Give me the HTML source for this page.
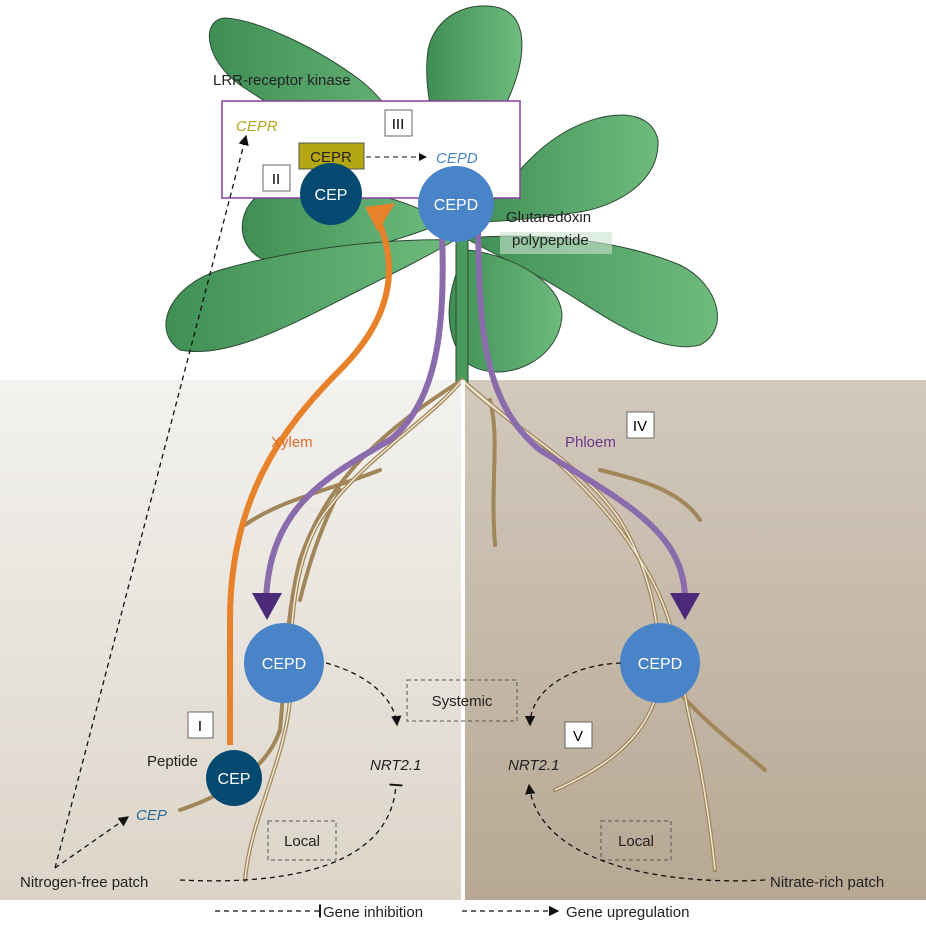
<!DOCTYPE html>
<html><head><meta charset="utf-8"><style>
body{margin:0;width:926px;height:927px;overflow:hidden;background:#fff;font-family:"Liberation Sans",sans-serif}
svg{display:block}
text{font-family:"Liberation Sans",sans-serif}
</style></head><body>
<svg width="926" height="927" viewBox="0 0 926 927" xmlns="http://www.w3.org/2000/svg">
<defs>
<linearGradient id="gl" x1="0" y1="0" x2="0" y2="1"><stop offset="0" stop-color="#f3f2ef"/><stop offset="1" stop-color="#dcd4c8"/></linearGradient>
<linearGradient id="gr" x1="0" y1="0" x2="0" y2="1"><stop offset="0" stop-color="#d2c9bd"/><stop offset="1" stop-color="#b7a893"/></linearGradient>
<linearGradient id="lf" x1="0" y1="0" x2="1" y2="0"><stop offset="0" stop-color="#3f8f55"/><stop offset="1" stop-color="#6fbb7e"/></linearGradient>
<marker id="ah" markerWidth="8" markerHeight="8" refX="7" refY="4" orient="auto"><path d="M0,0 L8,4 L0,8 Z" fill="#111"/></marker>
<marker id="tb" markerWidth="2" markerHeight="10" refX="1" refY="5" orient="auto"><path d="M1,0 V10" stroke="#111" stroke-width="1.5"/></marker>
</defs>
<rect x="0" y="380" width="461" height="520" fill="url(#gl)"/>
<rect x="465" y="380" width="461" height="520" fill="url(#gr)"/>
<!-- leaves -->
<g fill="url(#lf)" stroke="#2d4a34" stroke-width="1">
<path d="M450,220 C420,170 400,110 360,80 C320,50 260,20 225,18 C200,20 205,60 240,85 C300,125 380,170 450,220Z"/>
<path d="M462,205 C450,160 420,110 428,50 C435,15 470,0 500,8 C530,18 525,60 510,95 C495,130 470,170 462,205Z"/>
<path d="M470,222 C500,200 520,160 560,135 C600,110 650,105 658,140 C660,180 620,205 580,212 C540,218 500,222 470,222Z"/>
<path d="M445,222 C400,195 330,180 275,188 C240,195 230,240 260,258 C300,268 390,245 445,222Z"/>
<path d="M455,240 C380,238 290,250 220,270 C170,285 150,330 180,350 C230,360 300,320 360,290 C400,270 430,255 455,240Z"/>
<path d="M465,238 C540,232 620,240 680,265 C720,285 730,330 700,345 C660,355 610,320 570,295 C530,270 495,255 465,238Z"/>
<path d="M468,250 C445,285 440,340 470,365 C505,385 560,360 562,315 C560,280 510,255 468,250Z"/>
</g>
<rect x="456" y="200" width="12" height="182" fill="#4a9a5e" stroke="#2d4a34"/>
<!-- roots -->
<g fill="none" stroke="#a08659" stroke-width="4" stroke-linecap="round">
<path d="M462,380 C430,420 360,460 320,520 C290,570 290,640 290,700 C285,760 250,820 245,880"/>
<path d="M462,380 C400,420 330,470 300,560 C285,620 285,680 280,730 C270,760 240,790 180,810"/>
<path d="M380,470 C330,490 280,500 245,525"/>
<path d="M340,490 C320,530 310,560 300,600"/>
<path d="M462,380 C500,420 580,460 620,520 C650,570 660,620 660,680 C650,740 600,770 555,790"/>
<path d="M462,380 C520,430 600,490 640,560 C680,620 680,680 690,720 C700,760 710,820 715,870"/>
<path d="M490,400 C500,440 490,480 495,545"/>
<path d="M600,470 C640,480 680,490 700,520"/>
<path d="M660,670 C700,720 730,740 765,770"/>
</g>
<g fill="none" stroke="#f0e8d6" stroke-width="1.5">
<path d="M462,380 C430,420 360,460 320,520 C290,570 290,640 290,700 C285,760 250,820 245,880"/>
<path d="M462,380 C500,420 580,460 620,520 C650,570 660,620 660,680 C650,740 600,770 555,790"/>
<path d="M462,380 C520,430 600,490 640,560 C680,620 680,680 690,720 C700,760 710,820 715,870"/>
</g>
<rect x="461" y="380" width="4" height="520" fill="#fff"/>
<!-- box -->
<rect x="222" y="101" width="298" height="97" fill="#fff" stroke="#8a3fa0" stroke-width="1.5"/>
<text x="213" y="85" font-size="15" fill="#222">LRR-receptor kinase</text>
<text x="236" y="131" font-size="15" fill="#b5a520" font-style="italic">CEPR</text>
<rect x="385" y="110" width="27" height="26" fill="#fff" stroke="#666"/>
<text x="398" y="129" font-size="15" text-anchor="middle">III</text>
<rect x="299" y="143" width="65" height="26" fill="#b5a614" stroke="#555"/>
<text x="331" y="162" font-size="15" text-anchor="middle" fill="#222">CEPR</text>
<line x1="366" y1="157" x2="426" y2="157" stroke="#111" stroke-dasharray="5,4" marker-end="url(#ah)"/>
<text x="436" y="163" font-size="15" fill="#4a84c8" font-style="italic">CEPD</text>
<rect x="263" y="165" width="27" height="26" fill="#fff" stroke="#666"/>
<text x="276" y="184" font-size="15" text-anchor="middle">II</text>
<!-- arrows -->
<path d="M230,745 L230,620 C230,500 280,430 340,370 C390,320 400,270 378,220" fill="none" stroke="#e8822a" stroke-width="6"/>
<path d="M365,207 L395,203 L378,232 Z" fill="#e8822a"/>
<path d="M442,230 C445,320 440,400 390,440 C320,480 270,510 266,600" fill="none" stroke="#8a6bac" stroke-width="6"/>
<path d="M252,593 L282,593 L267,620 Z" fill="#4b2a7a"/>
<path d="M478,230 C480,320 480,400 540,450 C620,500 685,530 685,600" fill="none" stroke="#8a6bac" stroke-width="6"/>
<path d="M670,593 L700,593 L685,620 Z" fill="#4b2a7a"/>
<!-- circles -->
<circle cx="331" cy="194" r="31" fill="#044a70"/>
<text x="331" y="200" font-size="16" text-anchor="middle" fill="#fff">CEP</text>
<circle cx="456" cy="204" r="38" fill="#4a84c8"/>
<text x="456" y="210" font-size="16" text-anchor="middle" fill="#fff">CEPD</text>
<rect x="500" y="232" width="112" height="22" fill="#c9e2cf" opacity="0.6"/>
<text x="506" y="222" font-size="15" fill="#222">Glutaredoxin</text>
<text x="512" y="245" font-size="15" fill="#222">polypeptide</text>
<circle cx="284" cy="663" r="40" fill="#4a84c8"/>
<text x="284" y="669" font-size="16" text-anchor="middle" fill="#fff">CEPD</text>
<circle cx="660" cy="663" r="40" fill="#4a84c8"/>
<text x="660" y="669" font-size="16" text-anchor="middle" fill="#fff">CEPD</text>
<circle cx="234" cy="778" r="28" fill="#044a70"/>
<text x="234" y="784" font-size="16" text-anchor="middle" fill="#fff">CEP</text>
<text x="271" y="447" font-size="15" fill="#e06a25">Xylem</text>
<text x="565" y="447" font-size="15" fill="#6a3a8a">Phloem</text>
<rect x="627" y="412" width="27" height="26" fill="#fff" stroke="#666"/>
<text x="640" y="431" font-size="15" text-anchor="middle">IV</text>
<rect x="188" y="712" width="25" height="26" fill="#fff" stroke="#666"/>
<text x="200" y="731" font-size="15" text-anchor="middle">I</text>
<rect x="565" y="722" width="27" height="26" fill="#fff" stroke="#666"/>
<text x="578" y="741" font-size="15" text-anchor="middle">V</text>
<text x="147" y="766" font-size="15" fill="#222">Peptide</text>
<text x="136" y="820" font-size="15" fill="#2a6a94" font-style="italic">CEP</text>
<text x="370" y="770" font-size="15" fill="#222" font-style="italic">NRT2.1</text>
<text x="508" y="770" font-size="15" fill="#222" font-style="italic">NRT2.1</text>
<rect x="407" y="680" width="110" height="41" fill="none" stroke="#555" stroke-dasharray="4,3"/>
<text x="462" y="706" font-size="15" text-anchor="middle" fill="#222">Systemic</text>
<rect x="268" y="821" width="68" height="39" fill="none" stroke="#555" stroke-dasharray="4,3"/>
<text x="302" y="846" font-size="15" text-anchor="middle" fill="#222">Local</text>
<rect x="601" y="821" width="70" height="39" fill="none" stroke="#555" stroke-dasharray="4,3"/>
<text x="636" y="846" font-size="15" text-anchor="middle" fill="#222">Local</text>
<text x="20" y="887" font-size="15" fill="#222">Nitrogen-free patch</text>
<text x="770" y="887" font-size="15" fill="#222">Nitrate-rich patch</text>
<!-- dashed connectors -->
<g fill="none" stroke="#111" stroke-width="1.3" stroke-dasharray="5,4">
<path d="M55,868 L246,136" marker-end="url(#ah)"/>
<path d="M55,868 L128,817" marker-end="url(#ah)"/>
<path d="M326,663 C370,675 395,700 397,725" marker-end="url(#ah)"/>
<path d="M180,880 C280,885 390,870 396,785" marker-end="url(#tb)"/>
<path d="M621,663 C570,665 530,690 530,725" marker-end="url(#ah)"/>
<path d="M765,880 C680,885 540,870 529,785" marker-end="url(#ah)"/>
<path d="M215,911 L320,911" marker-end="url(#tb)"/>
<path d="M462,911 L558,911" marker-end="url(#ah)"/>
</g>
<text x="323" y="917" font-size="15" fill="#222">Gene inhibition</text>
<text x="566" y="917" font-size="15" fill="#222">Gene upregulation</text>
</svg>
</body></html>
